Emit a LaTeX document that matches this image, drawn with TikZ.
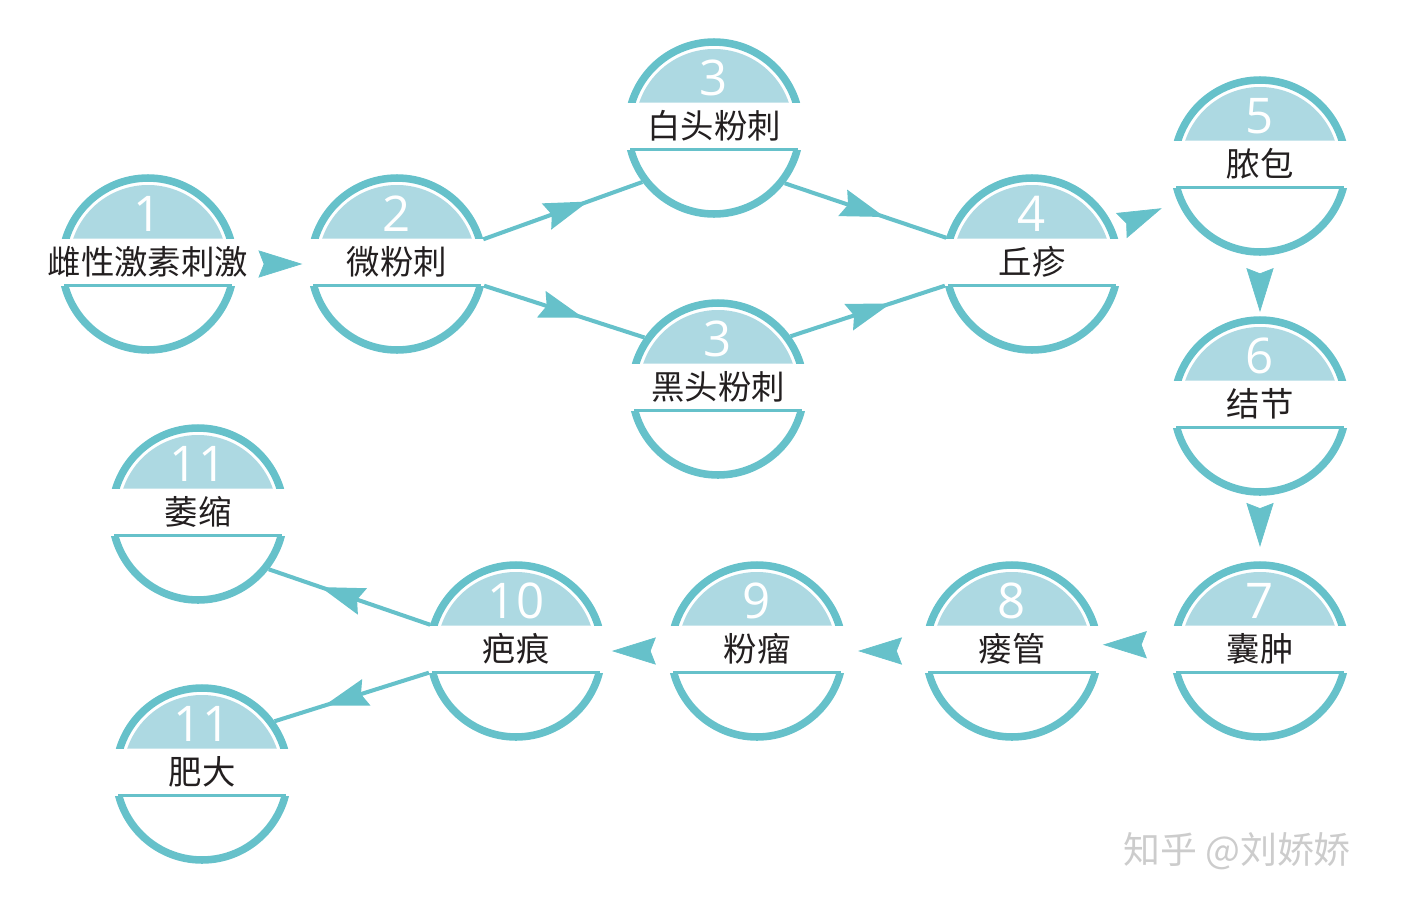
\documentclass[tikz,border=0pt]{standalone}
\usepackage{fontspec}
\newfontfamily\cjkfont{Noto Sans CJK SC}
\newfontfamily\numfont{Open Sans}
\usetikzlibrary{positioning, arrows.meta, calc, decorations.markings}
\definecolor{ringteal}{RGB}{102,193,202}
\definecolor{capblue}{RGB}{173,217,226}
\definecolor{labelink}{RGB}{35,31,32}

\begin{document}
\begin{tikzpicture}[
    x=0.02cm, y=0.02cm,
    ring/.style = {
        circle,
        draw=ringteal,
        line width=4.3pt,
        minimum size=3.44cm,
        inner sep=0pt
    },
    capfill/.style = {fill=capblue},
    band/.style = {
        fill=white,
        minimum width=3.8cm,
        minimum height=0.94cm,
        inner sep=1pt,
        text=labelink,
        font=\cjkfont\fontsize{19pt}{19pt}\selectfont
    },
    chord/.style = {draw=ringteal, line width=1.7pt},
    numlabel/.style = {
        text=white,
        inner sep=0pt,
        font=\numfont\fontsize{28pt}{28pt}\selectfont
    },
    headtip/.tip = {Stealth[length=25pt, width=15.5pt, inset=3pt]},
    link/.style = {
        draw=ringteal,
        line width=2.3pt,
        postaction={decorate},
        decoration={markings, mark=at position #1 with {\arrow[ringteal]{headtip}}}
    },
    headonly/.style = {
        decorate,
        decoration={markings, mark=at position #1 with {\arrow[ringteal]{headtip}}}
    },
    watermark/.style = {
        text=gray!40,
        font=\cjkfont\fontsize{21pt}{21pt}\selectfont
    }
]
\useasboundingbox (0,-910) rectangle (1404,0);

\foreach \nm/\x/\y/\num/\txt in {
    s1/148/264/1/雌性激素刺激,
    s2/397/264/2/微粉刺,
    s3a/714/128/3/白头粉刺,
    s3b/718/389/3/黑头粉刺,
    s4/1032/264/4/丘疹,
    s5/1260/166/5/脓包,
    s6/1260/406/6/结节,
    s7/1260/651/7/囊肿,
    s8/1012/651/8/瘘管,
    s9/757/651/9/粉瘤,
    s10/516/651/10/疤痕,
    s11a/198/514/11/萎缩,
    s11b/202/774/11/肥大} {
    \node[ring] (\nm) at (\x,-\y) {};
    \fill[capfill] (\nm.center) ++(18.8:79) arc[start angle=18.8, end angle=161.2, radius=79] -- cycle;
    \node[band] (\nm-label) at ($(\nm.center)+(0,2)$) {\txt};
    \draw[chord] ($(\nm.center)+(-84,-21.5)$) -- ++(168,0);
    \node[numlabel] (\nm-num) at ($(\nm.center)+(0,50)$) {\num};
}

\path[headonly=0.93] (s1) -- (s2);
\draw[link=0.66] (s2.16) -- (s3a.217);
\draw[link=0.62] (s2.346) -- (s3b.145);
\draw[link=0.62] (s3a.322) -- (s4.163);
\draw[link=0.65] (s3b.36) -- (s4.194);
\path[headonly=0.75] (s4) -- (s5);
\path[headonly=0.93] (s5) -- (s6);
\path[headonly=0.78] (s6) -- (s7);
\path[headonly=0.98] (s7.176) -- (s8.4);
\path[headonly=0.85] (s8) -- (s9);
\path[headonly=0.9] (s9) -- (s10);
\draw[link=0.68] (s10.163) -- (s11a.322);
\draw[link=0.68] (s10.194) -- (s11b.36);

\node[watermark] (mark) at (1237,-851) {知乎 @刘娇娇};
\end{tikzpicture}
\end{document}
